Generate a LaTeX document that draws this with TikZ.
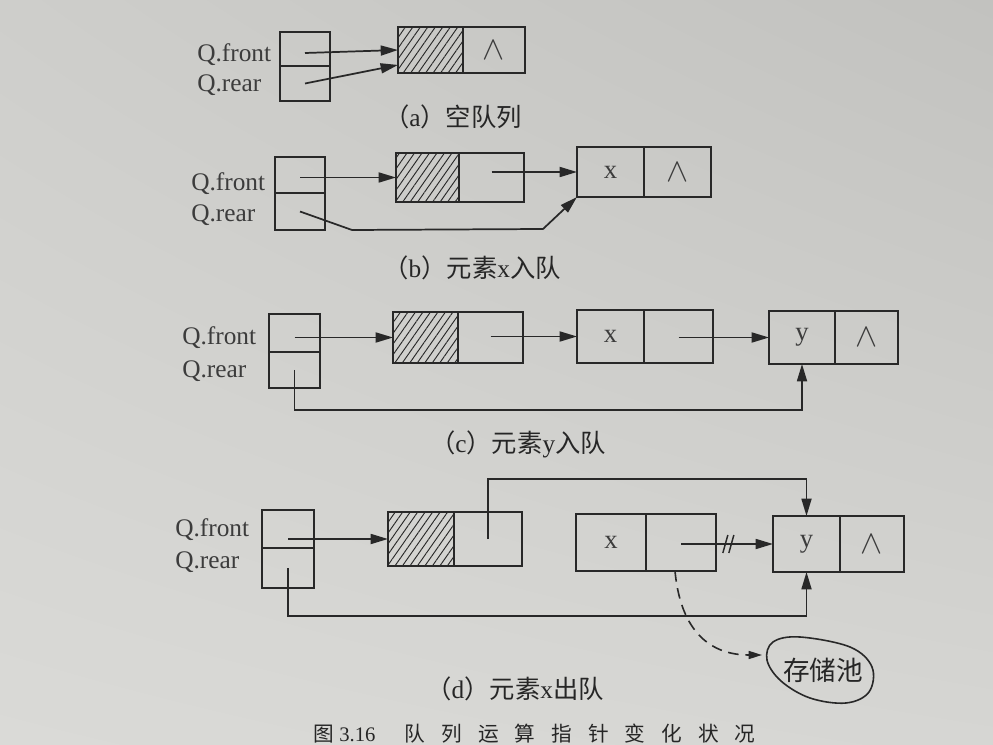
\documentclass[tikz,border=0pt]{standalone}
\usepackage{fontspec}
\setmainfont{Liberation Serif}
\newfontfamily\cjk{Noto Sans CJK SC}
\usetikzlibrary{arrows.meta,patterns.meta,calc,shadings}

\definecolor{paperA}{RGB}{206,206,203}
\definecolor{paperB}{RGB}{194,194,191}
\definecolor{paperC}{RGB}{218,218,215}
\definecolor{paperD}{RGB}{214,214,211}
\definecolor{ink}{RGB}{40,40,40}
\definecolor{txt}{RGB}{60,60,60}

% \qcell[style]{name}{x1}{x2}{y1}{y2}{text}
\newcommand\qcell[7][]{\node[cellbox,#1,minimum width={(#4-#3)*0.75pt},minimum height={(#6-#5)*0.75pt}] (#2) at ({(#3+#4)/2},{(#5+#6)/2}) {#7};}
\newcommand\nilsym{\fontsize{25}{25}\selectfont$\wedge$}

\tikzset{
  cellbox/.style={draw=ink, line width=1.3pt, inner sep=0pt, outer sep=0pt,
    font=\fontsize{20}{22}\selectfont, text=txt},
  hatched/.style={pattern={Lines[angle=55,distance=4.6pt,line width=0.7pt]}, pattern color=ink},
  arr/.style={draw=ink, line width=1.3pt, -{Triangle[length=13pt,width=7.5pt]}},
  darr/.style={draw=ink, line width=1.2pt, dash pattern=on 8pt off 5pt, -{Triangle[length=10pt,width=6pt]}},
  lbl/.style={anchor=west, inner sep=0pt, font=\fontsize{19}{20}\selectfont, text=txt},
  capt/.style={inner sep=0pt, font=\fontsize{19}{21}\selectfont, text=black!85},
}

\begin{document}
\begin{tikzpicture}[x=0.75pt,y=-0.75pt]
\useasboundingbox (0,0) rectangle (993,745);
\shade[upper left=paperA, upper right=paperB, lower left=paperC, lower right=paperD] (0,0) rectangle (993,745);

% ---------- (a) ----------
\node[lbl] (aLf) at (197,55) {Q.front};
\node[lbl] (aLr) at (197,85) {Q.rear};
\qcell{aF}{280}{330}{32}{66}{}
\qcell{aR}{280}{330}{66}{101}{}
\qcell[hatched]{aD}{398}{463}{27}{73}{}
\qcell{aN}{463}{525}{27}{73}{\nilsym}
\draw[arr] ($(aF.center)+(0,4)$) -- (aD.west);
\draw[arr] (aR.center) -- ($(aD.west)!0.65!(aD.south west)$);
\node[capt] (aCap) at (453,117) {{\cjk （}a{\cjk ）空队列}};

% ---------- (b) ----------
\node[lbl] (bLf) at (191,184) {Q.front};
\node[lbl] (bLr) at (191,215) {Q.rear};
\qcell{bF}{275}{325}{157}{193}{}
\qcell{bR}{275}{325}{193}{230}{}
\qcell[hatched]{bD1}{396}{459}{153}{202}{}
\qcell{bN1}{459}{524}{153}{202}{}
\qcell{bD2}{577}{644}{147}{197}{x}
\qcell{bN2}{644}{711}{147}{197}{\nilsym}
\draw[arr] (bF.center |- bD1.west) -- (bD1.west);
\draw[arr] (bN1.center |- bD2.west) -- (bD2.west);
\draw[arr] (bR.center) -- (352,230) -- (543,229) -- (bD2.south west);
\node[capt] (bCap) at (472,268) {{\cjk （}b{\cjk ）元素}x{\cjk 入队}};

% ---------- (c) ----------
\node[lbl] (cLf) at (182,338) {Q.front};
\node[lbl] (cLr) at (182,371) {Q.rear};
\qcell{cF}{269}{320}{314}{352}{}
\qcell{cR}{269}{320}{352}{388}{}
\qcell[hatched]{cD1}{393}{458}{312}{363}{}
\qcell{cN1}{458}{523}{312}{363}{}
\qcell{cD2}{577}{644}{310}{363}{x}
\qcell{cN2}{644}{713}{310}{363}{}
\qcell{cD3}{769}{835}{311}{364}{y}
\qcell{cN3}{835}{898}{311}{364}{\nilsym}
\coordinate (cB) at (0,410);
\draw[arr] (cF.center |- cD1.west) -- (cD1.west);
\draw[arr] (cN1.center |- cD2.west) -- (cD2.west);
\draw[arr] (cN2.center |- cD3.west) -- (cD3.west);
\draw[arr] (cR.center) -- (cR.center |- cB) -| (cD3.south);
\node[capt] (cCap) at (518,444) {{\cjk （}c{\cjk ）元素}y{\cjk 入队}};

% ---------- (d) ----------
\node[lbl] (dLf) at (175,530) {Q.front};
\node[lbl] (dLr) at (175,562) {Q.rear};
\qcell{dF}{262}{314}{510}{548}{}
\qcell{dR}{262}{314}{548}{588}{}
\qcell[hatched]{dD1}{388}{454}{512}{566}{}
\qcell{dN1}{454}{522}{512}{566}{}
\qcell{dD2}{576}{646}{514}{571}{x}
\qcell{dN2}{646}{716}{514}{571}{}
\qcell{dD3}{773}{840}{516}{572}{y}
\qcell{dN3}{840}{904}{516}{572}{\nilsym}
\coordinate (dT) at (0,479);
\coordinate (dB) at (0,616);
\draw[arr] (dF.center |- dD1.west) -- (dD1.west);
\draw[arr] (dN1.center) -- (dN1.center |- dT) -| (dD3.north);
\draw[arr] (dN2.center |- dD3.west) -- (dD3.west);
\path (dN2.center |- dD3.west) -- (dD3.west) coordinate[pos=0.52] (cut);
\draw[ink, line width=1.1pt] ($(cut)+(-6,9)$) -- ($(cut)+(-1,-9)$);
\draw[ink, line width=1.1pt] ($(cut)+(0,9)$) -- ($(cut)+(5,-9)$);
\draw[arr] (dR.center) -- (dR.center |- dB) -| (dD3.south);

\node[inner sep=0pt, font=\cjk\fontsize{20}{22}\selectfont, text=black!85] (pool) at (823,670) {存储池};
\draw[ink, line width=1.2pt] plot[smooth cycle, tension=0.6] coordinates
  {(773,642) (800,637) (850,647) (872,667) (869,692) (846,703) (810,698) (781,681) (767,660)};
\coordinate (poolIn) at (762,655);
\draw[darr] ($(dN2.south)+(-6,0)$) .. controls (680,625) and (705,655) .. (poolIn);
\node[capt] (dCap) at (515,689) {{\cjk （}d{\cjk ）元素}x{\cjk 出队}};

% ---------- figure caption at the bottom edge ----------
\node[anchor=base west, inner sep=0pt, text=black!85, font=\fontsize{15.5}{17}\selectfont] (fig) at (313,741)
  {{\cjk 图}\hspace{4pt}3.16\hspace{22pt}{\cjk 队\hspace{12pt}列\hspace{12pt}运\hspace{12pt}算\hspace{12pt}指\hspace{12pt}针\hspace{12pt}变\hspace{12pt}化\hspace{12pt}状\hspace{12pt}况}};
\end{tikzpicture}
\end{document}
